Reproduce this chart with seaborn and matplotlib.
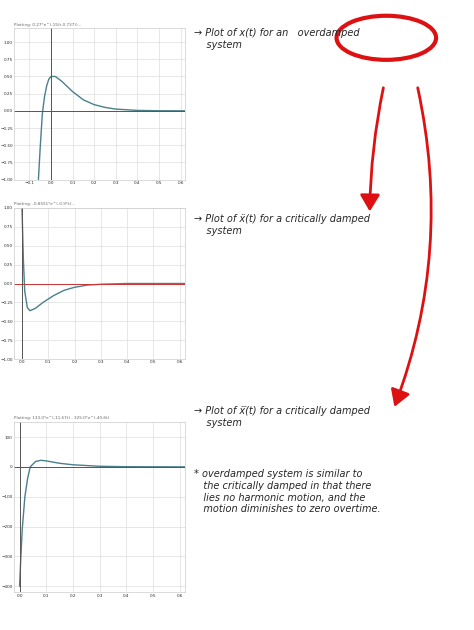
import matplotlib
matplotlib.use("Agg")
import matplotlib.pyplot as plt
import seaborn as sns
import pandas as pd
from matplotlib.patches import Ellipse, FancyArrowPatch

# curve samples
x1 = [-0.058, -0.05, -0.04, -0.03, -0.02, -0.01, 0.0, 0.02, 0.05, 0.1, 0.15, 0.2, 0.25, 0.3, 0.4, 0.5, 0.62]
y1 = [-1.0, -0.55, -0.05, 0.2, 0.36, 0.46, 0.5, 0.5, 0.43, 0.28, 0.16, 0.09, 0.05, 0.025, 0.006, 0.001, 0.0]

x2 = [-0.005, 0.0, 0.005, 0.01, 0.02, 0.03, 0.05, 0.08, 0.12, 0.16, 0.2, 0.25, 0.3, 0.4, 0.62]
y2 = [1.6, 0.95, 0.3, -0.1, -0.32, -0.36, -0.33, -0.25, -0.16, -0.09, -0.05, -0.02, -0.01, 0.0, 0.0]

x3 = [0.0, 0.005, 0.01, 0.02, 0.03, 0.04, 0.06, 0.08, 0.1, 0.15, 0.2, 0.3, 0.4, 0.62]
y3 = [-400, -300, -210, -100, -40, 0, 18, 22, 20, 12, 7, 2, 0.5, 0]

notes = [
    ("→ Plot of x(t) for an   overdamped\n    system", 0.41, 0.955),
    ("→ Plot of ẍ(t) for a critically damped\n    system", 0.41, 0.66),
    ("→ Plot of x⃛(t) for a critically damped\n    system", 0.41, 0.355),
    ("* overdamped system is similar to\n   the critically damped in that there\n   lies no harmonic motion, and the\n   motion diminishes to zero overtime.", 0.41, 0.255),
]

sns.set_style("whitegrid")
fig = plt.figure(figsize=(4.74, 6.3), dpi=100)
fig.patch.set_facecolor("white")

panels = [
    (x1, y1, (-0.17, 0.62), (-1.0, 1.2), [0.03, 0.715, 0.36, 0.24], "0.27*e^(-15(t-0.737))..."),
    (x2, y2, (-0.03, 0.62), (-1.0, 1.0), [0.03, 0.43, 0.36, 0.24], "-0.8551*e^(-0.9*t)..."),
    (x3, y3, (-0.02, 0.62), (-420, 150), [0.03, 0.06, 0.36, 0.27], "133.0*e^(-11.67t) - 325.0*e^(-40.6t)"),
]
for i, (xs, ys, xl, yl, rect, title) in enumerate(panels):
    ax = fig.add_axes(rect)
    sns.lineplot(data=pd.DataFrame({"x": xs, "y": ys}), x="x", y="y", ax=ax,
                 color="#4a7f8c", linewidth=1.0)
    ax.set_xlim(*xl)
    ax.set_ylim(*yl)
    ax.axhline(0, color="#cc3333" if i == 1 else "#555555", lw=0.7)
    ax.axvline(0, color="#555555", lw=0.7)
    ax.set_xlabel("")
    ax.set_ylabel("")
    ax.tick_params(labelsize=3, length=0, pad=1)
    ax.grid(color="#dddddd", lw=0.5)
    for s in ax.spines.values():
        s.set_color("#cccccc")
        s.set_linewidth(0.5)
    ax.set_title("Plotting: " + title, fontsize=3, loc="left", color="#666666", pad=2)

for txt, x, y in notes:
    fig.text(x, y, txt, fontsize=7, style="italic", va="top", family="DejaVu Sans")

# red marker circle and arrows
fig.patches.append(Ellipse((0.815, 0.94), 0.21, 0.07, transform=fig.transFigure,
                           fill=False, ec="#dd1111", lw=3))
fig.patches.append(FancyArrowPatch((0.81, 0.865), (0.78, 0.66), transform=fig.transFigure,
                                   arrowstyle="-|>,head_width=6,head_length=10",
                                   connectionstyle="arc3,rad=0.05", color="#dd1111", lw=2))
fig.patches.append(FancyArrowPatch((0.88, 0.865), (0.83, 0.35), transform=fig.transFigure,
                                   arrowstyle="-|>,head_width=6,head_length=10",
                                   connectionstyle="arc3,rad=-0.15", color="#dd1111", lw=2))

fig.savefig("out.png", dpi=100, facecolor="white")
